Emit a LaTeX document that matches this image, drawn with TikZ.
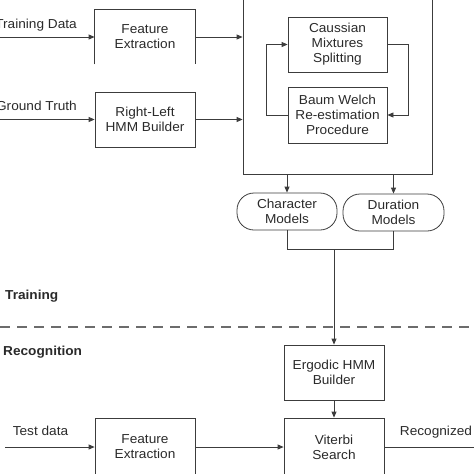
\documentclass[tikz,border=0pt]{standalone}
\usepackage{fontspec}
\setmainfont[FakeStretch=1.05]{Liberation Sans}
\usetikzlibrary{arrows.meta,calc}
\definecolor{ln}{HTML}{3C3C3C}
\definecolor{tx}{HTML}{2A2A2A}
\begin{document}
\begin{tikzpicture}[x=1pt,y=-1pt, font=\fontsize{13}{15}\selectfont, text=tx,
  box/.style={draw=ln, line width=0.8pt, minimum width=100pt, align=center, inner sep=0pt},
  conn/.style={draw=ln, line width=0.8pt},
  arr/.style={conn, -{Triangle[length=6pt,width=5pt]}},
  model/.style={box, rounded corners=17pt, minimum height=37pt},
  lbl/.style={inner sep=0pt},
  sect/.style={inner sep=0pt, font=\fontsize{13}{15}\selectfont\bfseries}]
\useasboundingbox (0,0) rectangle (474,474);

% training part
\node[box, draw=none, minimum height=54pt] (fe1) at (145,37) {Feature\\Extraction};
\draw[conn] (fe1.south west) -- (fe1.north west) -- (fe1.north east) -- (fe1.south east);
\node[box, minimum height=55pt] (rl) at (145,119.5) {Right-Left\\HMM Builder};
\node[box, minimum width=189pt, minimum height=185pt] (big) at (337.5,82) {};
\node[box, minimum width=99pt, minimum height=55pt] (gm) at (337.5,44.5) {Caussian\\Mixtures\\Splitting};
\node[box, minimum width=99pt, minimum height=56pt] (bw) at (337.5,115) {Baum Welch\\Re-estimation\\Procedure};
\node[model] (cm) at (287,211.5) {Character\\Models};
\node[model, minimum width=101pt] (dm) at (393.5,212.5) {Duration\\Models};

\coordinate (inTD) at (0,37);
\coordinate (inGT) at (0,119.5);
\node[lbl, anchor=east] (tdl) at (77,25) {Training Data};
\node[lbl, anchor=east] (gtl) at (77,106) {Ground Truth};
\draw[arr] (inTD) -- (fe1.west);
\draw[arr] (inGT) -- (rl.west);
\draw[arr] (fe1.east) -- (fe1.east -| big.west);
\draw[arr] (rl.east) -- (rl.east -| big.west);

\draw[arr] (bw.west) -- ($(bw.west)+(-21,0)$) |- (gm.west);
\draw[arr] (gm.east) -- ($(gm.east)+(21,0)$) |- (bw.east);

\draw[arr] (cm.north |- big.south) -- (cm.north);
\draw[arr] (dm.north |- big.south) -- (dm.north);

\coordinate (j) at (334,249);
\draw[conn] (cm.south) -- (cm.south |- j) -- (dm.south |- j) -- (dm.south);

% separator
\node[sect, anchor=west] (trn) at (5,296) {Training};
\node[sect, anchor=west] (rec) at (3,352) {Recognition};
\coordinate (dl) at (0,327);
\coordinate (dr) at (474,327);
\draw[draw=gray!85!black, line width=1.1pt, dash pattern=on 10pt off 7pt] (dl) -- (dr);

% recognition part
\node[box, minimum height=55pt] (erg) at (334,372.5) {Ergodic HMM\\Builder};
\node[box, minimum height=58pt] (vit) at (334,447) {Viterbi\\Search};
\node[box, minimum height=58pt] (fe2) at (145,447) {Feature\\Extraction};
\draw[arr] (j) -- (erg.north);
\draw[arr] (erg.south) -- (vit.north);
\draw[arr] (fe2.east) -- (vit.west);

\coordinate (inT) at (5,447);
\coordinate (outR) at (474,447);
\node[lbl] (tl) at (40.5,431) {Test data};
\node[lbl] (rcl) at (436,432) {Recognized};
\draw[arr] (inT) -- (fe2.west);
\draw[conn] (vit.east) -- (outR);
\end{tikzpicture}
\end{document}
